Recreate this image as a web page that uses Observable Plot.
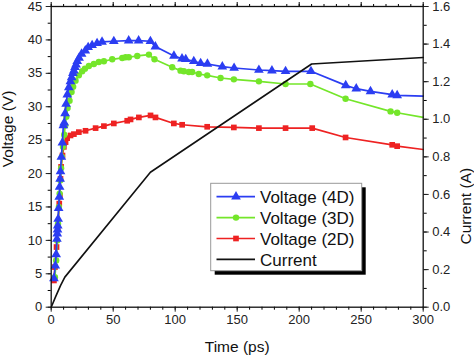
<!DOCTYPE html>
<html><head><meta charset="utf-8">
<script src="https://cdn.jsdelivr.net/npm/d3@7"></script>
<script src="https://cdn.jsdelivr.net/npm/@observablehq/plot@0.6"></script>
<style>body{margin:0;background:#fff} svg{display:block}</style>
</head><body><div id="chart"></div>
<script>
// ---- data ----
const time4D = [2.2,3.3,4.0,4.6,4.9,5.1,5.3,5.6,6.0,6.5,6.8,7.2,7.5,8.2,9.0,9.8,10.5,11.2,12.0,13.0,14.2,15.5,16.5,17.5,18.3,19.2,20.0,21.0,22.5,24.5,27.5,29.8,33.0,37.0,41.0,50.5,62.5,70.5,80.0,84.0,99.0,105.5,108.5,115.0,120.5,126.0,138.0,147.5,167.5,178.0,189.0,209.5,237.5,246.0,257.5,275.0,279.0,300];
const volt4D = [4.3,6.2,7.9,10.2,11.0,11.6,12.2,13.2,14.8,16.5,18.0,19.2,20.3,22.5,24.6,27.2,27.6,29.0,30.4,31.8,32.9,33.8,34.4,35.0,35.4,35.9,36.3,36.8,37.3,37.9,38.4,38.9,39.2,39.5,39.7,39.8,39.9,39.9,39.8,39.0,37.6,37.2,37.1,36.8,36.5,36.4,36.0,35.8,35.5,35.4,35.3,35.3,33.2,32.7,32.3,31.8,31.7,31.6];
const time3D = [3.0,4.0,4.8,5.5,6.2,6.8,7.4,8.0,8.7,9.5,10.5,11.3,12.2,13.2,14.8,16.4,17.7,19.6,22.3,25.0,27.2,30.4,34.4,38.4,42.5,49.2,57.3,60.0,62.6,69.4,78.8,83.3,97.6,104.3,107,111,113.7,119,125.8,136.6,147.3,167.5,189,209,237.4,273.7,279,300];
const volt3D = [4.5,7.0,10.0,12.5,15.0,17.0,19.0,20.8,22.5,24.0,25.8,27.2,28.5,29.8,30.9,32.2,33.0,33.9,34.7,35.3,35.7,36.1,36.4,36.7,36.8,37.1,37.3,37.4,37.4,37.6,37.8,37.1,35.9,35.4,35.3,35.2,35.2,34.9,34.7,34.3,34.1,33.8,33.4,33.4,31.2,29.3,29.1,28.4];
const time2D = [2.2,3.0,4.3,5.2,6.5,7.0,7.5,8.0,9.1,10.2,11.6,12.9,15.6,18.3,22.3,27.7,35.8,42.5,50.5,61.3,64.0,70.7,80.1,84.1,98.9,105.6,125.8,147.3,167.5,189,210.5,237.4,275,279,300];
const volt2D = [4.0,6.0,9.0,12.0,15.5,16.7,19.2,21.0,22.7,24.0,24.7,25.3,25.7,25.9,26.2,26.4,26.8,27.1,27.5,27.9,28.1,28.4,28.7,28.4,27.5,27.3,27.0,26.9,26.8,26.8,26.8,25.4,24.3,24.1,23.6];
const timeCurrent = [0,3.5,7.5,11,80,210,300];
const current = [0,0.055,0.115,0.16,0.718,1.294,1.329];

const xTicks = [0,50,100,150,200,250,300];
const xMinorTicks = d3.range(0,301,10);
const vTicks = [0,5,10,15,20,25,30,35,40,45];
const vMinorTicks = d3.range(0,45.01,2.5);
const iTicks = [0,0.2,0.4,0.6,0.8,1.0,1.2,1.4,1.6];
const iMinorTicks = d3.range(0,1.601,0.1);

const seriesNames = ["Voltage (4D)","Voltage (3D)","Voltage (2D)","Current"];
const colors = ["#2b3df2","#74e62a","#ee2222","#111111"];
const symbols = ["triangle","circle","square",null];

// ---- build ----
const A2V = 45/1.6;
const tbl = (ts, vs) => ts.map((t,i)=>({t, v: vs[i]}));
const s4 = tbl(time4D, volt4D), s3 = tbl(time3D, volt3D), s2 = tbl(time2D, volt2D);
const cur = timeCurrent.map((t,i)=>({t, v: current[i]*A2V}));
const font = "Liberation Sans, Arial, sans-serif";
const noLabel = () => "";
const rad = [3.6, 3.2, 3.2];

const marks = [
  Plot.axisX(xMinorTicks, {anchor:"bottom", tickSize:3, tickFormat:noLabel, label:null}),
  Plot.axisX(xTicks, {anchor:"bottom", tickSize:5, tickPadding:3, fontSize:13, label:null, color:"#222"}),
  Plot.axisX(xMinorTicks, {anchor:"top", tickSize:3, tickFormat:noLabel, label:null}),
  Plot.axisX(xTicks, {anchor:"top", tickSize:5, tickFormat:noLabel, label:null}),
  Plot.axisY(vMinorTicks, {anchor:"left", tickSize:3, tickFormat:noLabel, label:null}),
  Plot.axisY(vTicks, {anchor:"left", tickSize:5, tickPadding:4, fontSize:13, label:null, color:"#222"}),
  Plot.axisY(iMinorTicks.map(d=>d*A2V), {anchor:"right", tickSize:3, tickFormat:noLabel, label:null}),
  Plot.axisY(iTicks.map(d=>d*A2V), {anchor:"right", tickSize:5, tickPadding:4, fontSize:13, label:null, color:"#222", tickFormat: d => (d/A2V).toFixed(1)}),
];
[[s2,2],[s3,1],[s4,0]].forEach(([s,k])=>{
  marks.push(Plot.line(s, {x:"t", y:"v", stroke:colors[k], strokeWidth:1.7}));
  marks.push(Plot.dot(s.filter(d=>d.t<300), {x:"t", y:"v", fill:colors[k], stroke:"none", symbol:symbols[k], r: rad[k]}));
});
marks.push(Plot.line(cur, {x:"t", y:"v", stroke:colors[3], strokeWidth:1.6}));
marks.push(Plot.frame({stroke:"#111", strokeWidth:1.3}));
marks.push(Plot.text(["Time (ps)"], {frameAnchor:"bottom", dy:40, lineAnchor:"middle", fontSize:15.5, fill:"#111"}));
marks.push(Plot.text(["Voltage (V)"], {frameAnchor:"left", dx:-43.5, dy:10.5, rotate:-90, lineAnchor:"middle", fontSize:15.5, fill:"#111"}));
marks.push(Plot.text(["Current (A)"], {frameAnchor:"right", dx:42.5, dy:11, rotate:-90, lineAnchor:"middle", fontSize:15.5, fill:"#111"}));

const chart = Plot.plot({
  width:474, height:357,
  marginLeft:50.7, marginRight:51.3, marginTop:6, marginBottom:50.3,
  style:{fontFamily:font, background:"#fff", overflow:"visible"},
  x:{domain:[0,300]},
  y:{domain:[0,45]},
  marks
});
document.getElementById("chart").appendChild(chart);

// ---- legend ----
const svg = d3.select(chart);
const lg = svg.append("g").attr("font-family", font).attr("text-anchor", "start");
const bx = 210.7, by = 183.3, bw = 151, bh = 87.4;
lg.append("rect").attr("x", bx+4).attr("y", by+4).attr("width", bw).attr("height", bh).attr("fill", "#000");
lg.append("rect").attr("x", bx).attr("y", by).attr("width", bw).attr("height", bh).attr("fill", "#fff").attr("stroke", "#999").attr("stroke-width", 1);
const sym = {triangle:d3.symbolTriangle, circle:d3.symbolCircle, square:d3.symbolSquare};
seriesNames.forEach((name,k)=>{
  const yy = 196.7 + k*20.9;
  lg.append("line").attr("x1", 216.5).attr("x2", 255).attr("y1", yy).attr("y2", yy).attr("stroke", colors[k]).attr("stroke-width", 1.7);
  if (symbols[k]) {
    const r = rad[k];
    lg.append("path").attr("d", d3.symbol(sym[symbols[k]], Math.PI*r*r)()).attr("transform", `translate(236,${yy})`).attr("fill", colors[k]);
  }
  lg.append("text").attr("x", 260).attr("y", yy).attr("dy", "0.36em").attr("font-size", 17).attr("fill", "#111").attr("text-anchor", "start").text(name);
});
</script>
</body></html>
